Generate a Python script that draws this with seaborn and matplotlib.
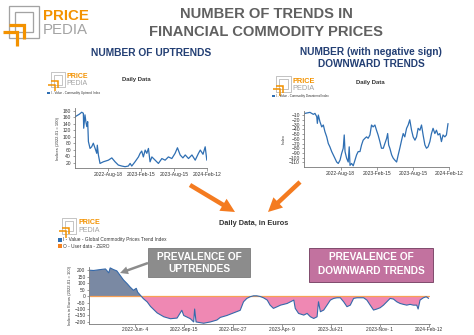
import numpy as np
import pandas as pd
import matplotlib
matplotlib.use("Agg")
import matplotlib.pyplot as plt
import seaborn as sns
from matplotlib.patches import Rectangle, FancyArrow

# ---------------- data ----------------
up_dates = ["2022-02-15", "2022-03-05", "2022-03-11", "2022-03-24", "2022-04-02", "2022-04-04",
            "2022-04-11", "2022-04-16", "2022-04-21", "2022-04-26", "2022-04-30", "2022-05-09",
            "2022-05-18", "2022-05-27", "2022-06-06", "2022-06-15", "2022-06-18", "2022-06-24",
            "2022-07-03", "2022-07-21", "2022-08-18", "2022-09-06", "2022-09-24", "2022-10-12",
            "2022-10-31", "2022-11-18", "2022-12-06", "2022-12-16", "2022-12-25", "2023-01-12",
            "2023-01-31", "2023-02-09", "2023-02-18", "2023-02-27", "2023-03-09", "2023-03-18",
            "2023-03-27", "2023-04-05", "2023-04-15", "2023-05-03", "2023-05-21", "2023-06-09",
            "2023-06-27", "2023-07-15", "2023-08-03", "2023-08-21", "2023-09-03", "2023-09-18",
            "2023-10-03", "2023-10-16", "2023-11-03", "2023-11-22", "2023-12-10", "2023-12-28",
            "2024-01-07", "2024-01-22", "2024-02-03", "2024-02-12"]
up_values = [161, 167, 169, 175, 172, 126, 167, 146, 131, 146, 85, 64,
             69, 80, 64, 49, 74, 44, 18, 23, 28, 35, 23, 13,
             10, 8, 10, 18, 10, 23, 38, 49, 56, 38, 59, 49,
             64, 23, 38, 28, 18, 33, 28, 38, 33, 49, 66, 44,
             35, 44, 33, 44, 28, 49, 59, 46, 69, 28]

down_dates = ["2022-02-20", "2022-03-17", "2022-04-03", "2022-04-11", "2022-04-20", "2022-04-23",
              "2022-04-28", "2022-05-06", "2022-05-15", "2022-05-23", "2022-05-31", "2022-06-09",
              "2022-06-17", "2022-06-25", "2022-07-04", "2022-07-12", "2022-07-20", "2022-07-29",
              "2022-08-06", "2022-08-15", "2022-08-23", "2022-08-31", "2022-09-05", "2022-09-09",
              "2022-09-17", "2022-09-25", "2022-09-30", "2022-10-04", "2022-10-12", "2022-10-20",
              "2022-10-29", "2022-11-06", "2022-11-14", "2022-11-23", "2022-12-01", "2022-12-09",
              "2022-12-18", "2022-12-26", "2023-01-03", "2023-01-12", "2023-01-20", "2023-01-28",
              "2023-02-06", "2023-02-14", "2023-02-22", "2023-03-03", "2023-03-11", "2023-03-20",
              "2023-03-28", "2023-04-06", "2023-04-11", "2023-04-16", "2023-04-22", "2023-05-01",
              "2023-05-09", "2023-05-17", "2023-05-26", "2023-06-03", "2023-06-11", "2023-06-20",
              "2023-06-28", "2023-07-06", "2023-07-15", "2023-07-23", "2023-07-31", "2023-08-09",
              "2023-08-17", "2023-08-26", "2023-09-03", "2023-09-11", "2023-09-20", "2023-09-28",
              "2023-10-06", "2023-10-15", "2023-10-23", "2023-10-31", "2023-11-09", "2023-11-17",
              "2023-11-25", "2023-12-04", "2023-12-12", "2023-12-20", "2023-12-29", "2024-01-06",
              "2024-01-14", "2024-01-23", "2024-01-31", "2024-02-08"]
down_values = [-6.5, -4.4, -8.6, -6.5, -13.5, -27.6,
               -10, -24, -35, -31, -45, -56,
               -70, -77, -87, -94, -101, -109,
               -112, -105, -91, -80, -52, -87,
               -101, -109, -77, -116, -112, -117,
               -105, -94, -87, -87, -73, -63,
               -59, -56, -59, -52, -31, -35,
               -31, -42, -52, -66, -80, -80,
               -70, -59, -49, -73, -80, -94,
               -101, -105, -109, -94, -80, -63,
               -49, -56, -38, -31, -20, -42,
               -56, -63, -56, -38, -42, -31,
               -52, -73, -80, -77, -66, -49,
               -38, -49, -42, -52, -49, -66,
               -52, -56, -52, -28]

trend_dates = ["2022-02-28", "2022-03-08", "2022-03-22", "2022-04-02", "2022-04-09", "2022-04-12",
               "2022-04-19", "2022-04-26", "2022-05-03", "2022-05-10", "2022-05-18", "2022-05-24",
               "2022-05-31", "2022-06-06", "2022-06-09", "2022-06-15", "2022-06-21", "2022-06-29",
               "2022-07-06", "2022-07-20", "2022-08-03", "2022-08-17", "2022-08-31", "2022-09-10",
               "2022-09-14", "2022-09-28", "2022-10-05", "2022-10-07", "2022-10-10", "2022-10-26",
               "2022-11-09", "2022-11-23", "2022-11-30", "2022-12-14", "2022-12-28", "2023-01-11",
               "2023-01-18", "2023-01-25", "2023-02-01", "2023-02-08", "2023-02-15", "2023-02-22",
               "2023-03-01", "2023-03-09", "2023-03-15", "2023-03-22", "2023-03-30", "2023-04-06",
               "2023-04-20", "2023-04-27", "2023-05-04", "2023-05-07", "2023-05-14", "2023-05-25",
               "2023-06-01", "2023-06-08", "2023-06-15", "2023-06-22", "2023-06-25", "2023-06-29",
               "2023-07-06", "2023-07-13", "2023-07-20", "2023-07-27", "2023-08-03", "2023-08-10",
               "2023-08-17", "2023-08-24", "2023-08-31", "2023-09-07", "2023-09-14", "2023-09-28",
               "2023-10-05", "2023-10-12", "2023-10-19", "2023-10-26", "2023-11-02", "2023-11-09",
               "2023-11-16", "2023-11-23", "2023-11-30", "2023-12-07", "2023-12-14", "2023-12-21",
               "2023-12-28", "2024-01-04", "2024-01-11", "2024-01-18", "2024-01-21", "2024-01-25",
               "2024-02-01", "2024-02-07", "2024-02-12"]
trend_values = [200, 198, 205, 210, 180, 218,
                205, 195, 160, 125, 95, 70,
                45, 60, 30, 5, -20, -45,
                -80, -130, -160, -175, -170, -110,
                -150, -175, -200, -100, -200, -210,
                -200, -185, -165, -150, -130, -110,
                -44, -18, -5, 2, 2, -3,
                -13, -31, -70, -95, -82, -70,
                -57, -44, -31, -95, -134, -147,
                -134, -160, -173, -160, -44, -121,
                -108, -70, -31, -18, -13, -13,
                -44, -82, -70, -18, -13, -13,
                -31, -70, -108, -100, -90, -70,
                -44, -18, -23, -44, -57, -64,
                -70, -64, -70, -70, -100, -31,
                -13, -5, -18]

small_ticks = ["2022-08-18", "2023-02-15", "2023-08-15", "2024-02-12"]
small_tick_labels = ["2022-Aug-18", "2023-Feb-15", "2023-Aug-15", "2024-Feb-12"]
big_ticks = ["2022-06-04", "2022-09-15", "2022-12-27", "2023-04-09", "2023-07-21", "2023-11-01", "2024-02-12"]
big_tick_labels = ["2022-Jun- 4", "2022-Sep-15", "2022-Dec-27", "2023-Apr- 9", "2023-Jul-21", "2023-Nov- 1", "2024-Feb-12"]
up_yticks = [20, 40, 60, 80, 100, 120, 140, 160, 180]
down_yticks = [-10, -20, -30, -40, -50, -60, -70, -80, -90, -100, -110]
big_yticks = [200, 150, 100, 50, 0, -50, -100, -150, -200]

# ---------------- style ----------------
sns.set_theme(style="white")
plt.rcParams['font.family'] = ['Liberation Sans', 'DejaVu Sans']

W, H = 474, 335
fig = plt.figure(figsize=(W / 100, H / 100), dpi=100)
fig.patch.set_facecolor('white')


def rect(l, t, r, b):
    return [l / W, 1 - b / H, (r - l) / W, (b - t) / H]


LINE = '#2f6fb3'
TICKC = '#333333'


def style_axes(ax, fs=3.6):
    sns.despine(ax=ax)
    for s in ['left', 'bottom']:
        ax.spines[s].set_color('#777777')
        ax.spines[s].set_linewidth(0.6)
    ax.tick_params(axis='both', which='both', length=1.8, width=0.5, color='#777777',
                   labelsize=fs, labelcolor=TICKC, pad=1, left=True, bottom=True)
    ax.set_xlabel('')
    ax.grid(False)
    ax.set_facecolor('white')


# chart 1: uptrends
ax1 = fig.add_axes(rect(75, 108, 207, 168))
df_up = pd.DataFrame({'date': pd.to_datetime(up_dates), 'value': up_values})
sns.lineplot(data=df_up, x='date', y='value', ax=ax1, color=LINE, linewidth=0.9)
ax1.set_xlim(pd.Timestamp('2022-02-15'), pd.Timestamp('2024-02-13'))
ax1.set_ylim(4, 188)
ax1.set_yticks(up_yticks)
ax1.set_xticks(pd.to_datetime(small_ticks))
ax1.set_xticklabels(small_tick_labels)
style_axes(ax1)
ax1.set_ylabel('Indices (2022-01 = 100)', fontsize=3, color=TICKC, labelpad=2)

# chart 2: downtrends
ax2 = fig.add_axes(rect(304, 111, 449, 167))
df_dn = pd.DataFrame({'date': pd.to_datetime(down_dates), 'value': down_values})
sns.lineplot(data=df_dn, x='date', y='value', ax=ax2, color=LINE, linewidth=0.9)
ax2.set_xlim(pd.Timestamp('2022-02-15'), pd.Timestamp('2024-02-13'))
ax2.set_ylim(-119.5, -1.5)
ax2.set_yticks(down_yticks)
ax2.set_xticks(pd.to_datetime(small_ticks))
ax2.set_xticklabels(small_tick_labels)
style_axes(ax2)
ax2.set_ylabel('Index', fontsize=3, color=TICKC, labelpad=2)

# big chart
ax3 = fig.add_axes(rect(89.3, 267, 430, 323.5))
tdates = pd.to_datetime(trend_dates)
tvals = np.array(trend_values, dtype=float)
ax3.fill_between(tdates, tvals, 0, where=tvals >= 0, interpolate=True, color='#7a89a3', lw=0)
ax3.fill_between(tdates, tvals, 0, where=tvals <= 0, interpolate=True, color='#ef88b3', lw=0)
df_zero = pd.DataFrame({'date': pd.to_datetime([trend_dates[0], trend_dates[-1]]), 'value': [0, 0]})
sns.lineplot(data=df_zero, x='date', y='value', ax=ax3, color='#f7a055', linewidth=0.9)
df_tr = pd.DataFrame({'date': tdates, 'value': tvals})
sns.lineplot(data=df_tr, x='date', y='value', ax=ax3, color='#3569aa', linewidth=0.8)
ax3.set_xlim(pd.Timestamp('2022-02-27'), pd.Timestamp('2024-02-15'))
ax3.set_ylim(-212, 225)
ax3.set_yticks(big_yticks)
ax3.set_xticks(pd.to_datetime(big_ticks))
ax3.set_xticklabels(big_tick_labels)
style_axes(ax3, fs=3.5)
ax3.set_ylabel('Indices in Euros (2022-01 = 100)', fontsize=3, color=TICKC, labelpad=2)

# ---------------- overlay (pixel coordinates) ----------------
ov = fig.add_axes([0, 0, 1, 1], zorder=10)
ov.set_xlim(0, W)
ov.set_ylim(H, 0)
ov.axis('off')
ov.patch.set_alpha(0)

ORANGE = '#f39200'
GRAYL = '#a3a3a3'
PX = 0.72  # points per pixel


def logo(x0, y0, s):
    ov.add_patch(Rectangle((x0 + 8 * s, y0 + 5 * s), 30 * s, 32 * s, fill=False,
                           ec=GRAYL, lw=1.3 * s * PX))
    ov.add_patch(Rectangle((x0 + 14 * s, y0 + 11 * s), 18 * s, 20 * s, fill=False,
                           ec=GRAYL, lw=1.3 * s * PX))
    ov.plot([x0 + 8 * s, x0 + 23 * s, x0 + 23 * s], [y0 + 24 * s, y0 + 24 * s, y0 + 38 * s],
            color=ORANGE, lw=3.2 * s * PX, solid_joinstyle='miter', solid_capstyle='butt')
    ov.plot([x0 + 2 * s, x0 + 16 * s, x0 + 16 * s], [y0 + 31 * s, y0 + 31 * s, y0 + 45 * s],
            color=ORANGE, lw=3.2 * s * PX, solid_joinstyle='miter', solid_capstyle='butt')
    ov.text(x0 + 42 * s, y0 + 14.5 * s, 'PRICE', color=ORANGE, fontsize=10.8 * s,
            fontweight='bold', ha='left', va='center')
    ov.text(x0 + 42 * s, y0 + 29.5 * s, 'PEDIA', color=GRAYL, fontsize=10.8 * s,
            ha='left', va='center')


logo(1, 1, 1.0)
logo(47, 70, 0.47)
logo(272, 74, 0.49)
logo(58, 216, 0.48)

TITLEC = '#606060'
SUBC = '#233f74'
ov.text(266, 14, 'NUMBER OF TRENDS IN', color=TITLEC, fontsize=10.6, fontweight='bold', ha='center', va='center')
ov.text(266, 32, 'FINANCIAL COMMODITY PRICES', color=TITLEC, fontsize=10.6, fontweight='bold', ha='center', va='center')
ov.text(151, 53.5, 'NUMBER OF UPTRENDS', color=SUBC, fontsize=7.4, fontweight='bold', ha='center', va='center')
ov.text(371, 52, 'NUMBER (with negative sign)', color=SUBC, fontsize=7.3, fontweight='bold', ha='center', va='center')
ov.text(371, 64, 'DOWNWARD TRENDS', color=SUBC, fontsize=7.3, fontweight='bold', ha='center', va='center')

ov.text(136, 79, 'Daily Data', color='#333333', fontsize=4.3, fontweight='bold', ha='center', va='center')
ov.text(370, 82.5, 'Daily Data', color='#333333', fontsize=4.3, fontweight='bold', ha='center', va='center')
ov.text(254, 223.5, 'Daily Data, in Euros', color='#333333', fontsize=5.3, fontweight='bold', ha='center', va='center')

# legends
ov.add_patch(Rectangle((47, 91.7), 3, 2.4, color='#2f6fb3', lw=0))
ov.text(51.5, 93, 'I - Value - Commodity Uptrend Index', fontsize=2.2, color='#333333', ha='left', va='center')
ov.add_patch(Rectangle((272, 94.7), 3, 2.4, color='#2f6fb3', lw=0))
ov.text(276.5, 96, 'I - Value - Commodity Downtrend Index', fontsize=2.2, color='#333333', ha='left', va='center')
ov.add_patch(Rectangle((58, 238), 4, 4, color='#2f6fb3', lw=0))
ov.text(63, 240, 'I - Value - Global Commodity Prices Trend Index', fontsize=3.4, color='#333333', ha='left', va='center')
ov.add_patch(Rectangle((58, 244), 4, 4, color='#f5821f', lw=0))
ov.text(63, 246, 'O - User data - ZERO', fontsize=3.4, color='#333333', ha='left', va='center')

# orange arrows
ARC = '#f47b20'
ov.add_patch(FancyArrow(190, 185, 45, 27, width=4.5, head_width=14, head_length=14,
                        length_includes_head=True, color=ARC, lw=0))
ov.add_patch(FancyArrow(300, 182, -32, 30, width=4.5, head_width=14, head_length=14,
                        length_includes_head=True, color=ARC, lw=0))

# gray box + arrow
ov.add_patch(Rectangle((147.7, 248.3), 102.3, 29, fc='#8c8c8c', ec='#7a7a7a', lw=0.6))
ov.text(199, 256.5, 'PREVALENCE OF', color='white', fontsize=7.3, fontweight='bold', ha='center', va='center')
ov.text(199, 269.5, 'UPTRENDES', color='white', fontsize=7.3, fontweight='bold', ha='center', va='center')
ov.add_patch(FancyArrow(148, 263, -28, 10, width=2.5, head_width=8, head_length=8,
                        length_includes_head=True, color='#8c8c8c', lw=0))

# pink box
ov.add_patch(Rectangle((309, 247.7), 123.7, 34.6, fc='#c2729f', ec='#7f4b6c', lw=0.7))
ov.text(371, 257.5, 'PREVALENCE OF', color='white', fontsize=7.3, fontweight='bold', ha='center', va='center')
ov.text(371, 271.5, 'DOWNWARD TRENDS', color='white', fontsize=7.3, fontweight='bold', ha='center', va='center')

fig.savefig('out.png', dpi=100)
